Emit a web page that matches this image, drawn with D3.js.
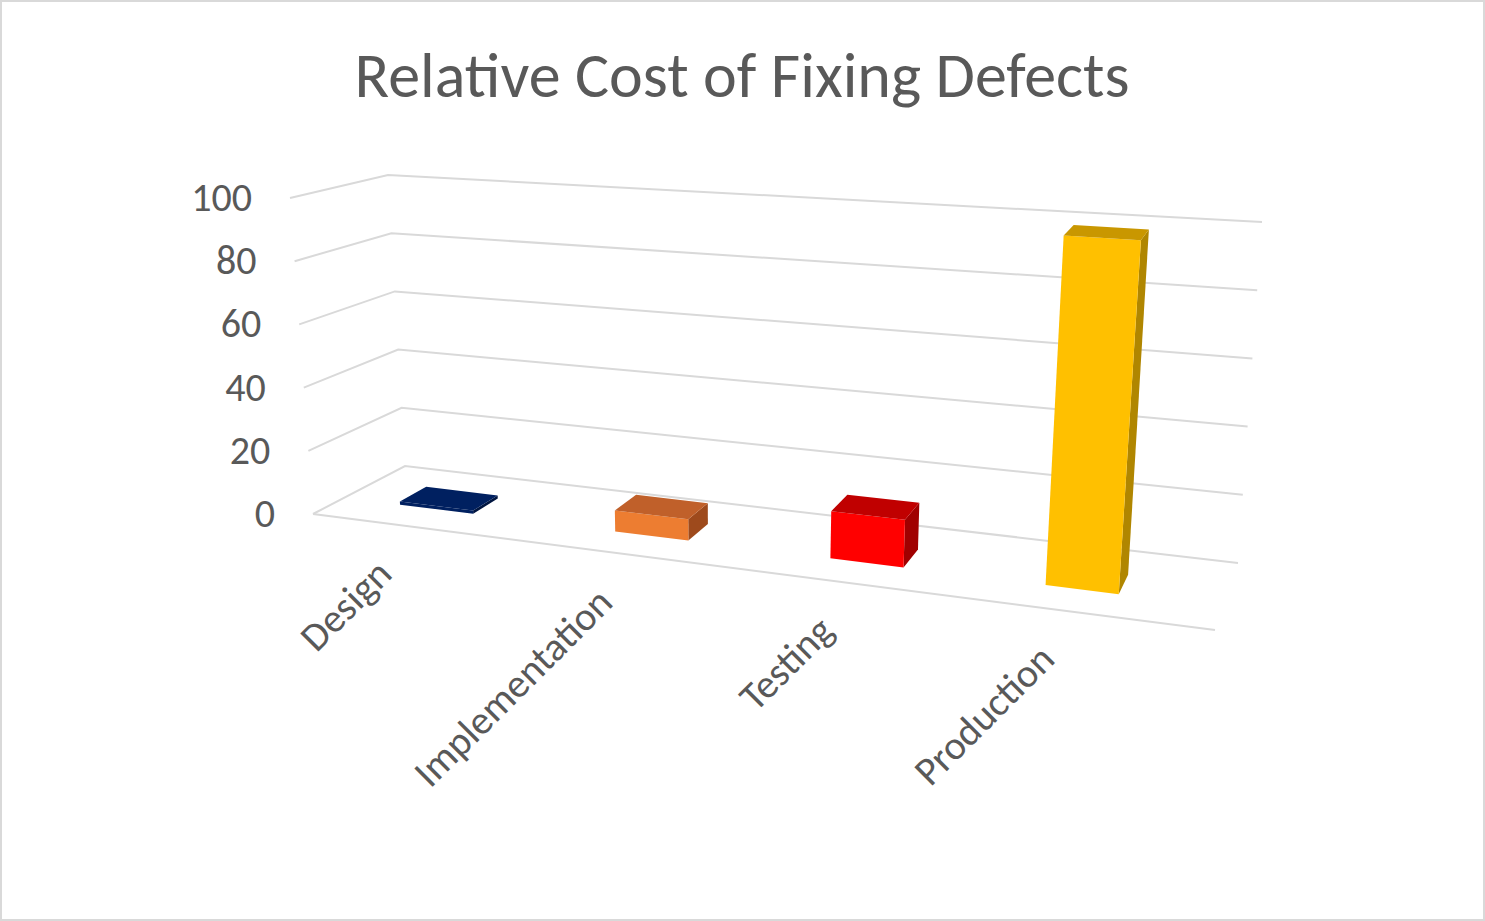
<!DOCTYPE html>
<html>
<head>
<meta charset="utf-8">
<script src="https://cdn.jsdelivr.net/npm/d3@7"></script>
<style>
  body { margin: 0; background: #fff; }
  svg { font-family: Calibri, Carlito, "Liberation Sans", "Open Sans", sans-serif; }
</style>
</head>
<body>
<svg id="chart" width="1485" height="921"></svg>
<script>
const categories = ['Design', 'Implementation', 'Testing', 'Production'];
const values = [1, 6.5, 14, 100];
const yTicks = [0, 20, 40, 60, 80, 100];
const frontColors = ['#002060', '#ED7D31', '#FF0000', '#FFC000'];
const topColors = ['#002060', '#C0602A', '#C00000', '#C99700'];
const sideColors = ['#001540', '#9E4A1C', '#A00000', '#B08600'];

const svg = d3.select('#chart');
svg.append('rect').attr('x', 1).attr('y', 1).attr('width', 1483).attr('height', 919)
  .attr('fill', '#fff').attr('stroke', '#d9d9d9').attr('stroke-width', 2);

// value -> vertical fraction, category -> across fraction
const v = d3.scaleLinear().domain([0, 100]).range([0, 1]);
const u = d3.scaleBand().domain(categories).range([-0.01, 0.955]).paddingInner(0.66).paddingOuter(0.3);

// corners of the 3D box in screen space: [u][w][v], w=0 front, w=1 back
const C = {
  '000': [313, 514], '100': [1215, 630], '010': [405, 466], '110': [1238, 563],
  '001': [290, 198], '101': [1245, 260], '011': [388, 175], '111': [1262, 222]
};
function proj(a, w, h) {
  const out = [0, 0];
  for (let i = 0; i < 2; i++) {
    let s = 0;
    for (const k of Object.keys(C)) {
      const fa = k[0] === '1' ? a : 1 - a;
      const fw = k[1] === '1' ? w : 1 - w;
      const fh = k[2] === '1' ? h : 1 - h;
      s += fa * fw * fh * C[k][i];
    }
    out[i] = s;
  }
  return out;
}
const poly = pts => 'M' + pts.map(p => p.join(',')).join('L') + 'Z';

// gridlines: left wall and back wall
const grid = svg.append('g').attr('stroke', '#d9d9d9').attr('stroke-width', 2).attr('fill', 'none');
yTicks.forEach(t => {
  const h = v(t);
  const pts = [proj(0, 0, h), proj(0, 1, h), proj(1, 1, h)];
  grid.append('path').attr('d', 'M' + pts.map(p => p.join(',')).join('L'));
});
// front floor edge
grid.append('path').attr('d', 'M' + [proj(0, 0, 0), proj(1, 0, 0)].map(p => p.join(',')).join('L'));

// y tick labels
svg.append('g').selectAll('text').data(yTicks).enter().append('text')
  .attr('x', d => proj(0, 0, v(d))[0] - 38)
  .attr('y', d => proj(0, 0, v(d))[1] + 13)
  .attr('text-anchor', 'end').attr('font-size', 40).attr('fill', '#595959')
  .text(d => d);

// bars
const w0 = 0.34, w1 = 0.64;
const bars = svg.append('g');
categories.forEach((c, i) => {
  const a0 = u(c), a1 = u(c) + u.bandwidth();
  const h = v(values[i]);
  const front = [proj(a0, w0, 0), proj(a1, w0, 0), proj(a1, w0, h), proj(a0, w0, h)];
  const side = [proj(a1, w0, 0), proj(a1, w1, 0), proj(a1, w1, h), proj(a1, w0, h)];
  const top = [proj(a0, w0, h), proj(a1, w0, h), proj(a1, w1, h), proj(a0, w1, h)];
  bars.append('path').attr('d', poly(side)).attr('fill', sideColors[i]);
  bars.append('path').attr('d', poly(front)).attr('fill', frontColors[i]);
  bars.append('path').attr('d', poly(top)).attr('fill', topColors[i]);
});

// category labels
svg.append('g').selectAll('text').data(categories).enter().append('text')
  .attr('transform', d => {
    const p = proj(u(d) + u.bandwidth() / 2, 0, 0);
    return `translate(${p[0] - 14},${p[1] + 50}) rotate(-45)`;
  })
  .attr('text-anchor', 'end').attr('font-size', 40).attr('fill', '#595959')
  .text(d => d);

svg.append('text').attr('x', 742).attr('y', 97).attr('text-anchor', 'middle')
  .attr('font-size', 64).attr('fill', '#595959').text('Relative Cost of Fixing Defects');
</script>
</body>
</html>
